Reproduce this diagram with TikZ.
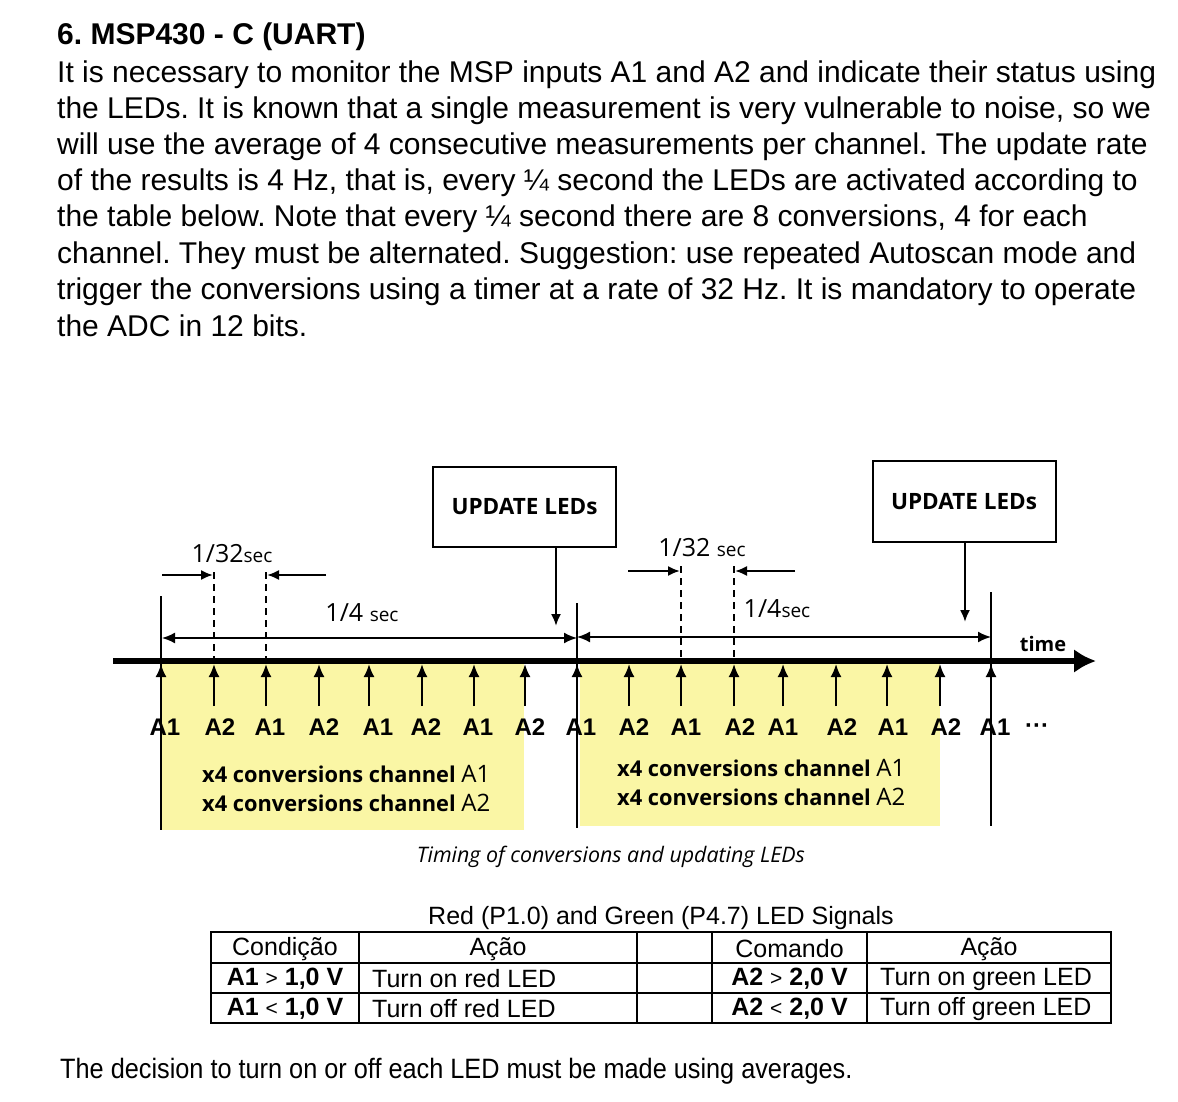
\documentclass[tikz,border=0pt]{standalone}
\usepackage{fontspec}
\setmainfont{Liberation Sans}
\newfontfamily\hum{Open Sans}
\usepackage{graphicx}
\usetikzlibrary{arrows.meta}
\definecolor{hl}{RGB}{250,246,165}
\frenchspacing
\begin{document}
\begin{tikzpicture}[x=1pt,y=-1pt,
  body/.style={anchor=base west, inner sep=0, font=\fontsize{30}{36}\selectfont},
  ttl/.style={anchor=base west, inner sep=0, font=\fontsize{30}{36}\selectfont\bfseries},
  thin/.style={line width=1.3pt},
  tick/.style={line width=2pt, -{Latex[length=13pt,width=11pt]}},
  dimarrow/.style={line width=2pt, -{Latex[length=12pt,width=10pt]}},
  dimboth/.style={line width=1.8pt, {Latex[length=13pt,width=11pt]}-{Latex[length=13pt,width=11pt]}},
  dsh/.style={line width=2pt, dash pattern=on 7pt off 5pt},
  upd/.style={draw, line width=2pt, minimum width=183pt, minimum height=80pt, inner sep=0, font=\hum\fontsize{22.5}{26}\selectfont\bfseries},
  alab/.style={inner sep=0, font=\fontsize{24}{28}\selectfont\bfseries},
  conv/.style={anchor=west, inner sep=0, font=\hum\fontsize{21.8}{26}\selectfont\bfseries},
  dimlab/.style={inner sep=0, font=\hum},
  tcell/.style={inner sep=0, font=\fontsize{25}{30}\selectfont},
  tbold/.style={inner sep=0, font=\fontsize{25}{30}\selectfont\bfseries},
  grid/.style={line width=1.2pt}]
\useasboundingbox[fill=white] (0,0) rectangle (1178,1102);

% ---------- text ----------
\node[ttl] (title) at (57,45) {6. MSP430 - C (UART)};
\node[body] (p1) at (57,83) {It is necessary to monitor the MSP inputs A1 and A2 and indicate their status using};
\node[body] (p2) at (57,119) {the LEDs. It is known that a single measurement is very vulnerable to noise, so we};
\node[body] (p3) at (57,155) {will use the average of 4 consecutive measurements per channel. The update rate};
\node[body] (p4) at (57,191) {of the results is 4 Hz, that is, every ¼ second the LEDs are activated according to};
\node[body] (p5) at (57,227) {the table below. Note that every ¼ second there are 8 conversions, 4 for each};
\node[body] (p6) at (57,263) {channel. They must be alternated. Suggestion: use repeated Autoscan mode and};
\node[body] (p7) at (57,299) {trigger the conversions using a timer at a rate of 32 Hz. It is mandatory to operate};
\node[body] (p8) at (57,336) {the ADC in 12 bits.};

% ---------- highlight areas ----------
\fill[hl] (162,663) rectangle (524,830);
\fill[hl] (580,663) rectangle (940,826);

% ---------- reference lines ----------
\coordinate (v1t) at (161,596); \coordinate (v1b) at (161,830);
\coordinate (v2t) at (577,603); \coordinate (v2b) at (577,828);
\coordinate (v3t) at (991,592); \coordinate (v3b) at (991,826);
\draw[thin] (v1t) -- (v1b);
\draw[thin] (v2t) -- (v2b);
\draw[thin] (v3t) -- (v3b);

% dashed
\coordinate (d1t) at (214,572); \coordinate (d1b) at (214,660);
\coordinate (d2t) at (266,572); \coordinate (d2b) at (266,660);
\coordinate (d3t) at (681,566); \coordinate (d3b) at (681,660);
\coordinate (d4t) at (734,566); \coordinate (d4b) at (734,660);
\draw[dsh] (d1t) -- (d1b);
\draw[dsh] (d2t) -- (d2b);
\draw[dsh] (d3t) -- (d3b);
\draw[dsh] (d4t) -- (d4b);

% time axis
\coordinate (ax0) at (113,661); \coordinate (ax1) at (1096,661);
\draw[line width=6pt, -{Latex[length=22pt,width=24pt]}] (ax0) -- (ax1);
\node[inner sep=0, font=\hum\fontsize{20}{24}\selectfont\bfseries] (time) at (1043,644) {time};

% conversion arrows
\foreach \x [count=\i] in {161,214,266,319,369,422,474,525,577,629,681,734,783,836,887,940,991}{
  \coordinate (tb\i) at (\x,706);
  \coordinate (tt\i) at (\x,664);
  \draw[tick] (tb\i) -- (tt\i);
}

% channel labels
\foreach \x/\l [count=\i] in {165/A1,220/A2,270/A1,324/A2,378/A1,426/A2,478/A1,530/A2,581/A1,634/A2,686/A1,740/A2,783/A1,842/A2,893/A1,946/A2,995/A1}{
  \node[alab] (lab\i) at (\x,727) {\l};
}
\node[alab] (dots) at (1037,729) {\textperiodcentered\textperiodcentered\textperiodcentered};

% 1/32 sec markers
\coordinate (a1s) at (162,575); \coordinate (a1e) at (213,575);
\coordinate (a2s) at (326,575); \coordinate (a2e) at (267,575);
\coordinate (a3s) at (628,571); \coordinate (a3e) at (680,571);
\coordinate (a4s) at (795,571); \coordinate (a4e) at (735,571);
\draw[dimarrow] (a1s) -- (a1e);
\draw[dimarrow] (a2s) -- (a2e);
\draw[dimarrow] (a3s) -- (a3e);
\draw[dimarrow] (a4s) -- (a4e);
\node[dimlab] (s32a) at (232,554) {\fontsize{25}{28}\selectfont 1/32\fontsize{19}{24}\selectfont sec};
\node[dimlab] (s32b) at (702,548) {\fontsize{25}{28}\selectfont 1/32 \fontsize{19}{24}\selectfont sec};

% 1/4 sec dimension arrows
\coordinate (q1s) at (162,638); \coordinate (q1e) at (577,638);
\coordinate (q2s) at (577,637); \coordinate (q2e) at (991,637);
\draw[dimboth] (q1s) -- (q1e);
\draw[dimboth] (q2s) -- (q2e);
\node[dimlab] (s4a) at (362,613) {\fontsize{25}{28}\selectfont 1/4 \fontsize{19}{24}\selectfont sec};
\node[dimlab] (s4b) at (777,609) {\fontsize{25}{28}\selectfont 1/4\fontsize{19}{24}\selectfont sec};

% update boxes
\node[upd] (u1) at (524.5,506.5) {UPDATE LEDs};
\node[upd, minimum height=81pt] (u2) at (964,501.5) {UPDATE LEDs};
\coordinate (u1e) at (556,626);
\coordinate (u2e) at (965,622);
\draw[dimarrow] (u1.south -| u1e) -- (u1e);
\draw[dimarrow] (u2.south -| u2e) -- (u2e);

% conversions text
\node[conv] (c1) at (202,774) {x4 conversions channel {\mdseries\fontsize{24}{26}\selectfont A1}};
\node[conv] (c2) at (202,803) {x4 conversions channel {\mdseries\fontsize{24}{26}\selectfont A2}};
\node[conv] (c3) at (617,768) {x4 conversions channel {\mdseries\fontsize{24}{26}\selectfont A1}};
\node[conv] (c4) at (617,797) {x4 conversions channel {\mdseries\fontsize{24}{26}\selectfont A2}};

\node[inner sep=0, font=\hum\fontsize{21.4}{26}\selectfont\itshape] (cap) at (611,857) {Timing of conversions and updating LEDs};

% ---------- table ----------
\node[tcell] (tcap) at (661,918) {Red (P1.0) and Green (P4.7) LED Signals};
\draw[grid] (211,932) rectangle (1111,1023);
\draw[grid] (211,963) -- (1111,963);
\draw[grid] (211,993) -- (1111,993);
\foreach \x in {359,637,712,867}{ \draw[grid] (\x,932) -- (\x,1023); }
\node[tcell] (h1) at (285,949) {Condição};
\node[tcell] (h2) at (498,949) {Ação};
\node[tcell] (h4) at (789.5,949) {Comando};
\node[tcell] (h5) at (989,949) {Ação};
\node[tbold] (r1c1) at (285,979) {A1 {\mdseries\fontsize{21}{24}\selectfont >} 1,0 V};
\node[tbold] (r2c1) at (285,1009) {A1 {\mdseries\fontsize{21}{24}\selectfont <} 1,0 V};
\node[tbold] (r1c4) at (789.5,979) {A2 {\mdseries\fontsize{21}{24}\selectfont >} 2,0 V};
\node[tbold] (r2c4) at (789.5,1009) {A2 {\mdseries\fontsize{21}{24}\selectfont <} 2,0 V};
\node[tcell, anchor=west] (r1c2) at (372,979) {Turn on red LED};
\node[tcell, anchor=west] (r2c2) at (372,1009) {Turn off red LED};
\node[tcell, anchor=west] (r1c5) at (880,979) {Turn on green LED};
\node[tcell, anchor=west] (r2c5) at (880,1009) {Turn off green LED};

\node[anchor=base west, inner sep=0, font=\fontsize{28}{32}\selectfont] (foot) at (60,1078) {\scalebox{0.903}[1]{The decision to turn on or off each LED must be made using averages.}};
\end{tikzpicture}
\end{document}
